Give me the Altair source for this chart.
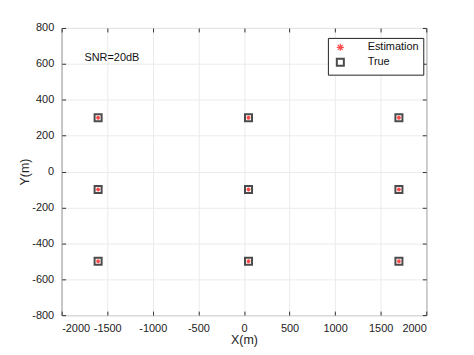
import altair as alt
import pandas as pd

x_true = [-1600, -1600, -1600, 50, 50, 50, 1700, 1700, 1700]
y_true = [300, -100, -500, 300, -100, -500, 300, -100, -500]
x_est = [-1600, -1600, -1600, 50, 50, 50, 1700, 1700, 1700]
y_est = [300, -100, -500, 300, -100, -500, 300, -100, -500]
series = ["Estimation", "True"]
x_ticks = list(range(-2000, 2001, 500))
y_ticks = list(range(-800, 801, 200))

df = pd.DataFrame({
    "x": x_est + x_true,
    "y": y_est + y_true,
    "s": ["Estimation"] * len(x_est) + ["True"] * len(x_true),
})

FONT = "Liberation Sans"
ast = "M-1,0L1,0M0,-1L0,1M-0.7,-0.7L0.7,0.7M-0.7,0.7L0.7,-0.7"

xs = alt.Scale(domain=[-2000, 2000], nice=False)
ys = alt.Scale(domain=[-800, 800], nice=False)
cs = alt.Scale(domain=series, range=["red", "black"])
ss = alt.Scale(domain=series, range=[ast, "square"])
ws = alt.Scale(domain=series, range=[1.2, 2])

leg = alt.Legend(title=None, orient="none", legendX=268, legendY=10,
                 strokeColor="#222", fillColor="white", padding=4,
                 labelFont=FONT, labelFontSize=11, labelColor="#111",
                 symbolSize=50, rowPadding=0, symbolOffset=3,
                 labelOffset=22, labelLimit=300)

xaxis = alt.Axis(orient="bottom", values=x_ticks, title="X(m)", offset=-4, tickSize=4, domain=False,
                 labelPadding=8, grid=True, gridColor="#ebebeb", tickColor="#333",
                 labelExpr="toString(datum.value)",
                 labelFont=FONT, labelFontSize=11, labelColor="#222", titleFont=FONT,
                 titleFontSize=12.5, titleFontWeight="normal", titleColor="#222", titlePadding=0)
yaxis = alt.Axis(orient="left", values=y_ticks, title="Y(m)", offset=-4, tickSize=4, domain=False,
                 labelPadding=8, grid=True, gridColor="#ebebeb", tickColor="#333",
                 labelExpr="toString(datum.value)",
                 labelFont=FONT, labelFontSize=11, labelColor="#222", titleFont=FONT,
                 titleFontSize=12.5, titleFontWeight="normal", titleColor="#222", titlePadding=0)

true_layer = alt.Chart(df[df.s == "True"]).mark_point(
    filled=False, size=50
).encode(
    x=alt.X("x:Q", scale=xs, axis=xaxis),
    y=alt.Y("y:Q", scale=ys, axis=yaxis),
    color=alt.Color("s:N", scale=cs, legend=leg),
    shape=alt.Shape("s:N", scale=ss, legend=leg),
    strokeWidth=alt.StrokeWidth("s:N", scale=ws, legend=leg),
)

est_layer = alt.Chart(df[df.s == "Estimation"]).mark_point(
    filled=False, size=16
).encode(
    x=alt.X("x:Q", scale=xs, axis=None),
    y=alt.Y("y:Q", scale=ys, axis=None),
    color=alt.Color("s:N", scale=cs, legend=leg),
    shape=alt.Shape("s:N", scale=ss, legend=leg),
    strokeWidth=alt.StrokeWidth("s:N", scale=ws, legend=leg),
)

frame_axes = alt.Chart(df).mark_point(opacity=0).encode(
    x=alt.X("x:Q", scale=xs, axis=alt.Axis(orient="top", values=x_ticks, labels=False, title=None,
                                           offset=-4, tickSize=4, domain=False, grid=False,
                                           tickColor="#333")),
    y=alt.Y("y:Q", scale=ys, axis=alt.Axis(orient="right", values=y_ticks, labels=False, title=None,
                                           offset=-4, tickSize=4, domain=False, grid=False,
                                           tickColor="#333")),
)

snr = alt.Chart(pd.DataFrame({"x": [-1750], "y": [630], "t": ["SNR=20dB"]})).mark_text(
    align="left", baseline="middle", font=FONT, fontSize=11, color="#111"
).encode(x=alt.X("x:Q", scale=xs, axis=None), y=alt.Y("y:Q", scale=ys, axis=None), text="t:N")

chart = alt.layer(true_layer, est_layer, frame_axes, snr).resolve_axis(
    x="independent", y="independent"
).properties(
    width=367, height=289,
    autosize=alt.AutoSizeParams(type="none"),
    padding={"left": 54, "top": 19, "right": 40, "bottom": 31},
    background="white",
).configure_view(stroke="#333", strokeWidth=1)

chart.save("out.html", embed_options={"renderer": "svg", "actions": False})
